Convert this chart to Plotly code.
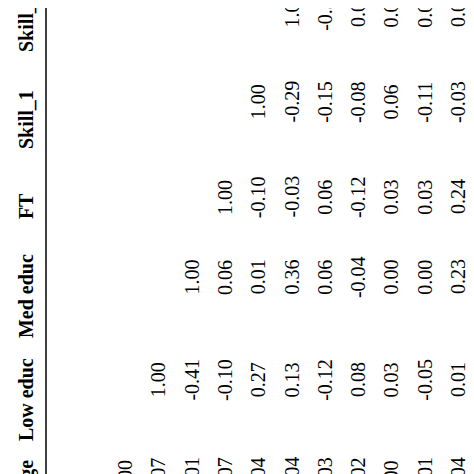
import plotly.graph_objects as go

headers = ["Age", "Low educ", "Med educ", "FT", "Skill_1", "Skill_2"]
age = ["1.00", "-0.07", "-0.01", "-0.07", "-0.04", "-0.04", "-0.03", "-0.02", "0.00", "-0.01", "-0.04"]
low_educ = ["1.00", "-0.41", "-0.10", "0.27", "0.13", "-0.12", "0.08", "0.03", "-0.05", "0.01"]
med_educ = ["1.00", "0.06", "0.01", "0.36", "0.06", "-0.04", "0.00", "0.00", "0.23"]
ft = ["1.00", "-0.10", "-0.03", "0.06", "-0.12", "0.03", "0.03", "0.24"]
skill_1 = ["1.00", "-0.29", "-0.15", "-0.08", "0.06", "-0.11", "-0.03"]
skill_2 = ["1.00", "-0.35", "0.05", "0.02", "0.04", "0.03"]
columns = [age, low_educ, med_educ, ft, skill_1, skill_2]

# layout: vertical pixel centre of each band (values / header)
val_y = [470, 372, 269, 189, 94, 2]
head_y = [469, 392, 288, 198, 112, 15]

font = dict(family="Liberation Serif", size=20, color="black")
fig = go.Figure()
fig.add_trace(go.Scatter(x=[], y=[]))
ann = []
for c, col in enumerate(columns):
    ann.append(dict(x=-2.97, y=head_y[c], xref="x", yref="y", text="<b>" + headers[c] + "</b>",
                    textangle=-90, showarrow=False, font=font))
    for i, v in enumerate(col):
        r = c + i
        ann.append(dict(x=r, y=val_y[c], xref="x", yref="y", text=v,
                        textangle=-90, showarrow=False, font=font))
fig.update_layout(
    width=474, height=474, margin=dict(l=0, r=0, t=0, b=0),
    plot_bgcolor="white", paper_bgcolor="white", showlegend=False,
    xaxis=dict(range=[-117 / 33.3, (474 - 117) / 33.3], visible=False),
    yaxis=dict(range=[474, 0], visible=False),
    annotations=ann,
    shapes=[dict(type="line", xref="paper", yref="paper", x0=38 / 474, x1=38 / 474, y0=0, y1=1,
                 line=dict(color="black", width=1.5), layer="above")],
)
fig.write_html("out.html")
